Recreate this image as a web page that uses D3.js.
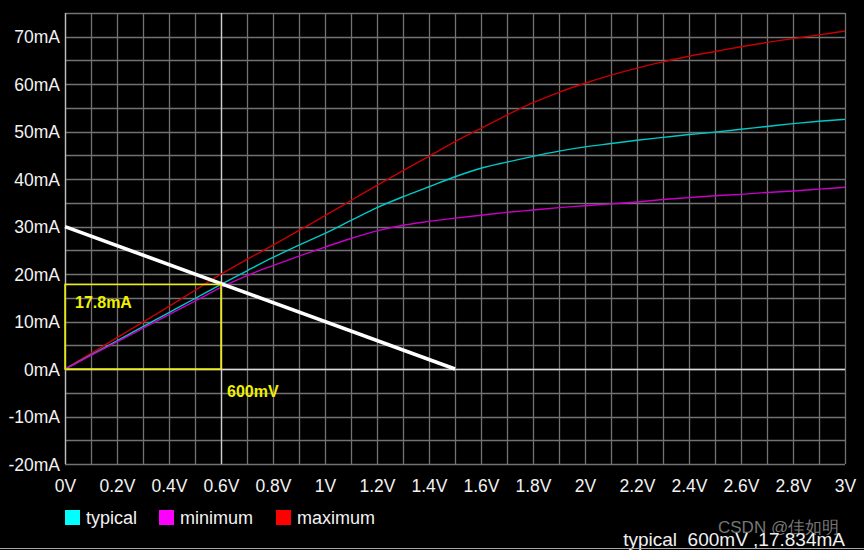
<!DOCTYPE html>
<html>
<head>
<meta charset="utf-8">
<script src="https://cdn.jsdelivr.net/npm/d3@7/dist/d3.min.js"></script>
<style>
  html, body { margin: 0; padding: 0; background: #000; }
  svg { display: block; }
  text { font-family: "Liberation Sans", Arial, sans-serif; }
</style>
</head>
<body>
<svg id="chart" width="864" height="550"></svg>
<script>
// ---- data ----
const voltage = [0,0.1,0.2,0.3,0.4,0.5,0.6,0.7,0.8,0.9,1.0,1.1,1.2,1.3,1.4,1.5,1.6,1.7,1.8,1.9,2.0,2.1,2.2,2.3,2.4,2.5,2.6,2.7,2.8,2.9,3.0];
const typical = [0,2.97,5.95,8.92,11.89,14.86,17.834,20.7,23.5,26.1,28.6,31.3,34.0,36.3,38.4,40.5,42.3,43.6,44.8,45.9,46.8,47.5,48.2,48.8,49.4,49.9,50.5,51.1,51.7,52.2,52.6];
const minimum = [0,2.87,5.73,8.6,11.47,14.33,17.2,19.7,21.8,23.8,25.7,27.5,29.1,30.3,31.1,31.8,32.4,33.0,33.5,34.0,34.4,34.8,35.2,35.7,36.1,36.5,36.8,37.2,37.5,37.9,38.3];
const maximum = [0,3.3,6.6,9.9,13.2,16.6,20.0,23.1,26.1,29.2,32.3,35.5,38.7,41.8,44.8,47.9,50.7,53.5,56.1,58.3,60.2,61.9,63.4,64.7,65.9,66.9,67.9,68.8,69.6,70.4,71.2];
const seriesNames = ["typical","minimum","maximum"];
const loadLineV = [0, 1.5];
const loadLineI = [30, 0];
const cursorV = 0.6;
const cursorI = 17.834;
const xTickValues = [0,0.2,0.4,0.6,0.8,1.0,1.2,1.4,1.6,1.8,2.0,2.2,2.4,2.6,2.8,3.0];
const xTickLabels = ["0V","0.2V","0.4V","0.6V","0.8V","1V","1.2V","1.4V","1.6V","1.8V","2V","2.2V","2.4V","2.6V","2.8V","3V"];
const yTickValues = [-20,-10,0,10,20,30,40,50,60,70];
const yTickLabels = ["-20mA","-10mA","0mA","10mA","20mA","30mA","40mA","50mA","60mA","70mA"];
const cursorLabelI = "17.8mA";
const cursorLabelV = "600mV";
const statusText = "typical\u00a0\u00a0600mV ,17.834mA";
const watermark = "CSDN @佳如明";

// ---- styles ----
const lineColors = {typical:"#00c8c8", minimum:"#c800c8", maximum:"#c80000"};
const legendColors = {typical:"#00ffff", minimum:"#ff00ff", maximum:"#ff0000"};

const svg = d3.select("#chart");
svg.append("rect").attr("width",864).attr("height",550).attr("fill","#000");

const x = d3.scaleLinear().domain([0,3]).range([65,845]);
const y = d3.scaleLinear().domain([-20,75]).range([464,13]);

// grid
const grid = svg.append("g");
const gridColor = "#727272";
grid.selectAll("line.v").data(d3.range(0,31).map(i=>i/10)).join("line")
  .attr("x1",d=>Math.round(x(d))+0.5).attr("x2",d=>Math.round(x(d))+0.5)
  .attr("y1",y(75)).attr("y2",y(-20))
  .attr("stroke",gridColor).attr("stroke-width",1.3);
grid.selectAll("line.h").data(d3.range(-20,80,5)).join("line")
  .attr("y1",d=>Math.round(y(d))+0.5).attr("y2",d=>Math.round(y(d))+0.5)
  .attr("x1",x(0)).attr("x2",x(3))
  .attr("stroke",gridColor).attr("stroke-width",1.3);
// cursor horizontal line
grid.append("line")
  .attr("x1",x(0)).attr("x2",x(3))
  .attr("y1",Math.round(y(cursorI))+0.5).attr("y2",Math.round(y(cursorI))+0.5)
  .attr("stroke",gridColor).attr("stroke-width",1.3);
// bright lines
grid.append("line")
  .attr("x1",Math.round(x(cursorV))+0.5).attr("x2",Math.round(x(cursorV))+0.5)
  .attr("y1",y(75)).attr("y2",y(-20))
  .attr("stroke","#cfcfcf").attr("stroke-width",1.3);
grid.append("line")
  .attr("x1",x(0)).attr("x2",x(3))
  .attr("y1",Math.round(y(0))+0.5).attr("y2",Math.round(y(0))+0.5)
  .attr("stroke","#dcdcdc").attr("stroke-width",1.3);
grid.append("line")
  .attr("x1",Math.round(x(0))+0.5).attr("x2",Math.round(x(0))+0.5)
  .attr("y1",y(75)).attr("y2",y(-20))
  .attr("stroke","#bdbdbd").attr("stroke-width",1.3);

// axes labels via d3 axes
const xAxis = d3.axisBottom(x).tickValues(xTickValues)
  .tickFormat((d,i)=>xTickLabels[i]).tickSize(0).tickPadding(0);
const gx = svg.append("g").attr("transform","translate(0,"+y(-20)+")").call(xAxis);
gx.select(".domain").remove();
gx.selectAll("text").attr("dy",null).attr("y",28)
  .attr("fill","#f2f2f2").attr("font-size","17.5px")
  .attr("font-family","'Liberation Sans', Arial, sans-serif");

const yAxis = d3.axisLeft(y).tickValues(yTickValues)
  .tickFormat((d,i)=>yTickLabels[i]).tickSize(0).tickPadding(5);
const gy = svg.append("g").attr("transform","translate("+x(0)+",0)").call(yAxis);
gy.select(".domain").remove();
gy.selectAll("text").attr("fill","#f2f2f2").attr("font-size","17.5px")
  .attr("dy","0.35em")
  .attr("font-family","'Liberation Sans', Arial, sans-serif");

// curves
const seriesData = {typical, minimum, maximum};
const line = d3.line().x((d,i)=>x(voltage[i])).y(d=>y(d)).curve(d3.curveMonotoneX);
const drawOrder = ["maximum","typical","minimum"];
drawOrder.forEach(name=>{
  svg.append("path").datum(seriesData[name])
    .attr("d",line).attr("fill","none")
    .attr("stroke",lineColors[name]).attr("stroke-width",1.4);
});

// load line
svg.append("line")
  .attr("x1",x(loadLineV[0])).attr("y1",y(loadLineI[0]))
  .attr("x2",x(loadLineV[1])).attr("y2",y(loadLineI[1]))
  .attr("stroke","#ffffff").attr("stroke-width",3.6);

// cursor rectangle
svg.append("rect")
  .attr("x",x(0)).attr("y",y(cursorI))
  .attr("width",x(cursorV)-x(0)).attr("height",y(0)-y(cursorI))
  .attr("fill","none").attr("stroke","#f0f000").attr("stroke-width",1.5);
svg.append("text").attr("x",x(0)+10).attr("y",y(cursorI)+24)
  .attr("fill","#f0f000").attr("font-size","16px").attr("font-weight","bold")
  .attr("font-family","'DejaVu Sans', Verdana, sans-serif").text(cursorLabelI);
svg.append("text").attr("x",x(cursorV)+6).attr("y",y(0)+28)
  .attr("fill","#f0f000").attr("font-size","16px").attr("font-weight","bold")
  .attr("font-family","'DejaVu Sans', Verdana, sans-serif").text(cursorLabelV);

// legend
const legendX = [65, 159, 276];
const lg = svg.append("g");
seriesNames.forEach((name,i)=>{
  lg.append("rect").attr("x",legendX[i]).attr("y",510).attr("width",15).attr("height",15)
    .attr("fill",legendColors[name]);
  lg.append("text").attr("x",legendX[i]+21).attr("y",524)
    .attr("fill","#f2f2f2").attr("font-size","18px").text(name);
});

// status text
svg.append("text").attr("x",845).attr("y",546).attr("text-anchor","end")
  .attr("fill","#f2f2f2").attr("font-size","19px").text(statusText);

// watermark (overlaps the status text, as in the reference)
svg.append("text").attr("x",718).attr("y",533)
  .attr("fill","rgba(200,200,200,0.6)").attr("font-size","17px")
  .attr("font-family","'Liberation Sans', 'Noto Sans CJK SC', sans-serif").text(watermark);

// bottom border
svg.append("line").attr("x1",0).attr("x2",864).attr("y1",548.5).attr("y2",548.5)
  .attr("stroke","#a8a8a8").attr("stroke-width",1);
</script>
</body>
</html>
